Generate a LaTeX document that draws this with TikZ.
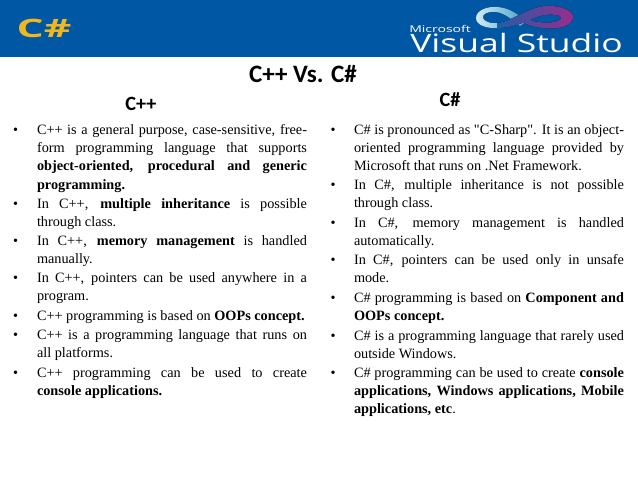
\documentclass[tikz,border=0pt]{standalone}
\usepackage{fontspec}
\setmainfont{Liberation Serif}
\newfontfamily\carl{Carlito}
\newfontfamily\vsfont{Open Sans}
\newfontfamily\qf{Liberation Serif}
\definecolor{bandblue}{HTML}{0058A5}
\definecolor{csgold}{HTML}{F2B71E}
\definecolor{loopa}{HTML}{D0EAF4}
\definecolor{loopb}{HTML}{3F9CC8}
\definecolor{loopc}{HTML}{1F5FA8}
\definecolor{loopm}{HTML}{5A2A9E}
\definecolor{loopd}{HTML}{9A2C8E}
\newcommand{\jl}[1]{\makebox[202.5pt][s]{#1}}
\newcommand{\pl}[1]{\makebox[202.5pt][l]{#1}}
\begin{document}
\begin{tikzpicture}[x=0.75pt,y=-0.75pt,
  jline/.style={anchor=base west,inner sep=0pt,outer sep=0pt,font=\fontsize{10.7pt}{12pt}\selectfont},
  head/.style={anchor=base,inner sep=0pt,font=\carl\bfseries\fontsize{15.2pt}{18pt}\selectfont}]
\useasboundingbox (0,0) rectangle (638,478);
\fill[white] (0,0) rectangle (638,478);
\fill[bandblue] (0,0) rectangle (638,57.5);
% C# logo
\node[anchor=base,inner sep=0pt,text=csgold,font=\vsfont\bfseries\fontsize{20pt}{22pt}\selectfont] (cslogo) at (44,37.5) {\scalebox{1.6}[0.95]{C\#}};
% Visual Studio logo
\fill[left color=loopa,right color=loopb]
  (476,18) .. controls (476,10) and (488,6) .. (498,7) .. controls (510,8) and (518,15) .. (528,21)
  -- (520,26) .. controls (512,20) and (505,13) .. (496,12) .. controls (488,11) and (482,14) .. (483,18)
  .. controls (484,22) and (492,24) .. (500,23) -- (500,28) .. controls (486,29) and (476,25) .. (476,18) -- cycle;
\fill[left color=loopc,middle color=loopm,right color=loopd]
  (497,23) .. controls (512,22) and (525,8) .. (545,6) .. controls (562,5) and (574,11) .. (573,18)
  .. controls (572,26) and (558,30) .. (543,28) .. controls (532,27) and (524,24) .. (519,20)
  -- (526,17) .. controls (529,19) and (531,20) .. (533,21)
  .. controls (542,23) and (558,24) .. (561,18) .. controls (562,15) and (552,14) .. (545,15)
  .. controls (530,17) and (520,28) .. (497,28) -- cycle;
\node[anchor=base west,inner sep=0pt,text=white,font=\vsfont\fontsize{7pt}{7.5pt}\selectfont] (ms) at (409,33) {\scalebox{1.5}[1]{Microsoft}};
\node[anchor=base west,inner sep=0pt,text=white,font=\vsfont\fontsize{19pt}{22pt}\selectfont] (vs) at (410,53) {\scalebox{1.4}[1]{Visual Studio}};
% Headings
\node[head,font=\carl\bfseries\fontsize{18.8pt}{22pt}\selectfont] (title) at (303,83) {C++ Vs. C\#};
\node[head] (lh) at (141,110) {C++};
\node[head] (rh) at (450,106.5) {C\#};
% Left column bullets
\foreach \n/\y in {a/134,b/208,c/245,d/282,e/320,f/339,g/377}
  \node[jline] (lb\n) at (13,\y) {•};
\node[jline] (l1) at (37,134) {\jl{C++ is a general purpose, case-sensitive, free-}};
\node[jline] (l2) at (37,152) {\jl{form programming language that supports}};
\node[jline] (l3) at (37,170) {\jl{\textbf{object-oriented, procedural and generic}}};
\node[jline] (l4) at (37,189) {\pl{\textbf{programming.}}};
\node[jline] (l5) at (37,208) {\jl{In C++, \textbf{multiple inheritance} is possible}};
\node[jline] (l6) at (37,226) {\pl{through class.}};
\node[jline] (l7) at (37,245) {\jl{In C++, \textbf{memory management} is handled}};
\node[jline] (l8) at (37,263) {\pl{manually.}};
\node[jline] (l9) at (37,282) {\jl{In C++, pointers can be used anywhere in a}};
\node[jline] (l10) at (37,300) {\pl{program.}};
\node[jline] (l11) at (37,320) {\pl{C++ programming is based on \textbf{OOPs concept.}}};
\node[jline] (l12) at (37,339) {\jl{C++ is a programming language that runs on}};
\node[jline] (l13) at (37,357) {\pl{all platforms.}};
\node[jline] (l14) at (37,377) {\jl{C++ programming can be used to create}};
\node[jline] (l15) at (37,395) {\pl{\textbf{console applications.}}};
% Right column bullets
\foreach \n/\y in {a/134,b/189,c/227,d/264,e/302,f/340,g/377}
  \node[jline] (rb\n) at (330.5,\y) {•};
\node[jline] (r1) at (354,134) {\jl{C\# is pronounced as {\qf "}C-Sharp{\qf "}. It is an object-}};
\node[jline] (r2) at (354,152) {\jl{oriented programming language provided by}};
\node[jline] (r3) at (354,170) {\pl{Microsoft that runs on .Net Framework.}};
\node[jline] (r4) at (354,189) {\jl{In C\#, multiple inheritance is not possible}};
\node[jline] (r5) at (354,207) {\pl{through class.}};
\node[jline] (r6) at (354,227) {\jl{In C\#, memory management is handled}};
\node[jline] (r7) at (354,245) {\pl{automatically.}};
\node[jline] (r8) at (354,264) {\jl{In C\#, pointers can be used only in unsafe}};
\node[jline] (r9) at (354,282) {\pl{mode.}};
\node[jline] (r10) at (354,302) {\jl{C\# programming is based on \textbf{Component and}}};
\node[jline] (r11) at (354,320) {\pl{\textbf{OOPs concept.}}};
\node[jline] (r12) at (354,340) {\jl{C\# is a programming language that rarely used}};
\node[jline] (r13) at (354,358) {\pl{outside Windows.}};
\node[jline] (r14) at (354,377) {\jl{C\# programming can be used to create \textbf{console}}};
\node[jline] (r15) at (354,395) {\jl{\textbf{applications, Windows applications, Mobile}}};
\node[jline] (r16) at (354,413) {\pl{\textbf{applications, etc}.}};
\end{tikzpicture}
\end{document}
